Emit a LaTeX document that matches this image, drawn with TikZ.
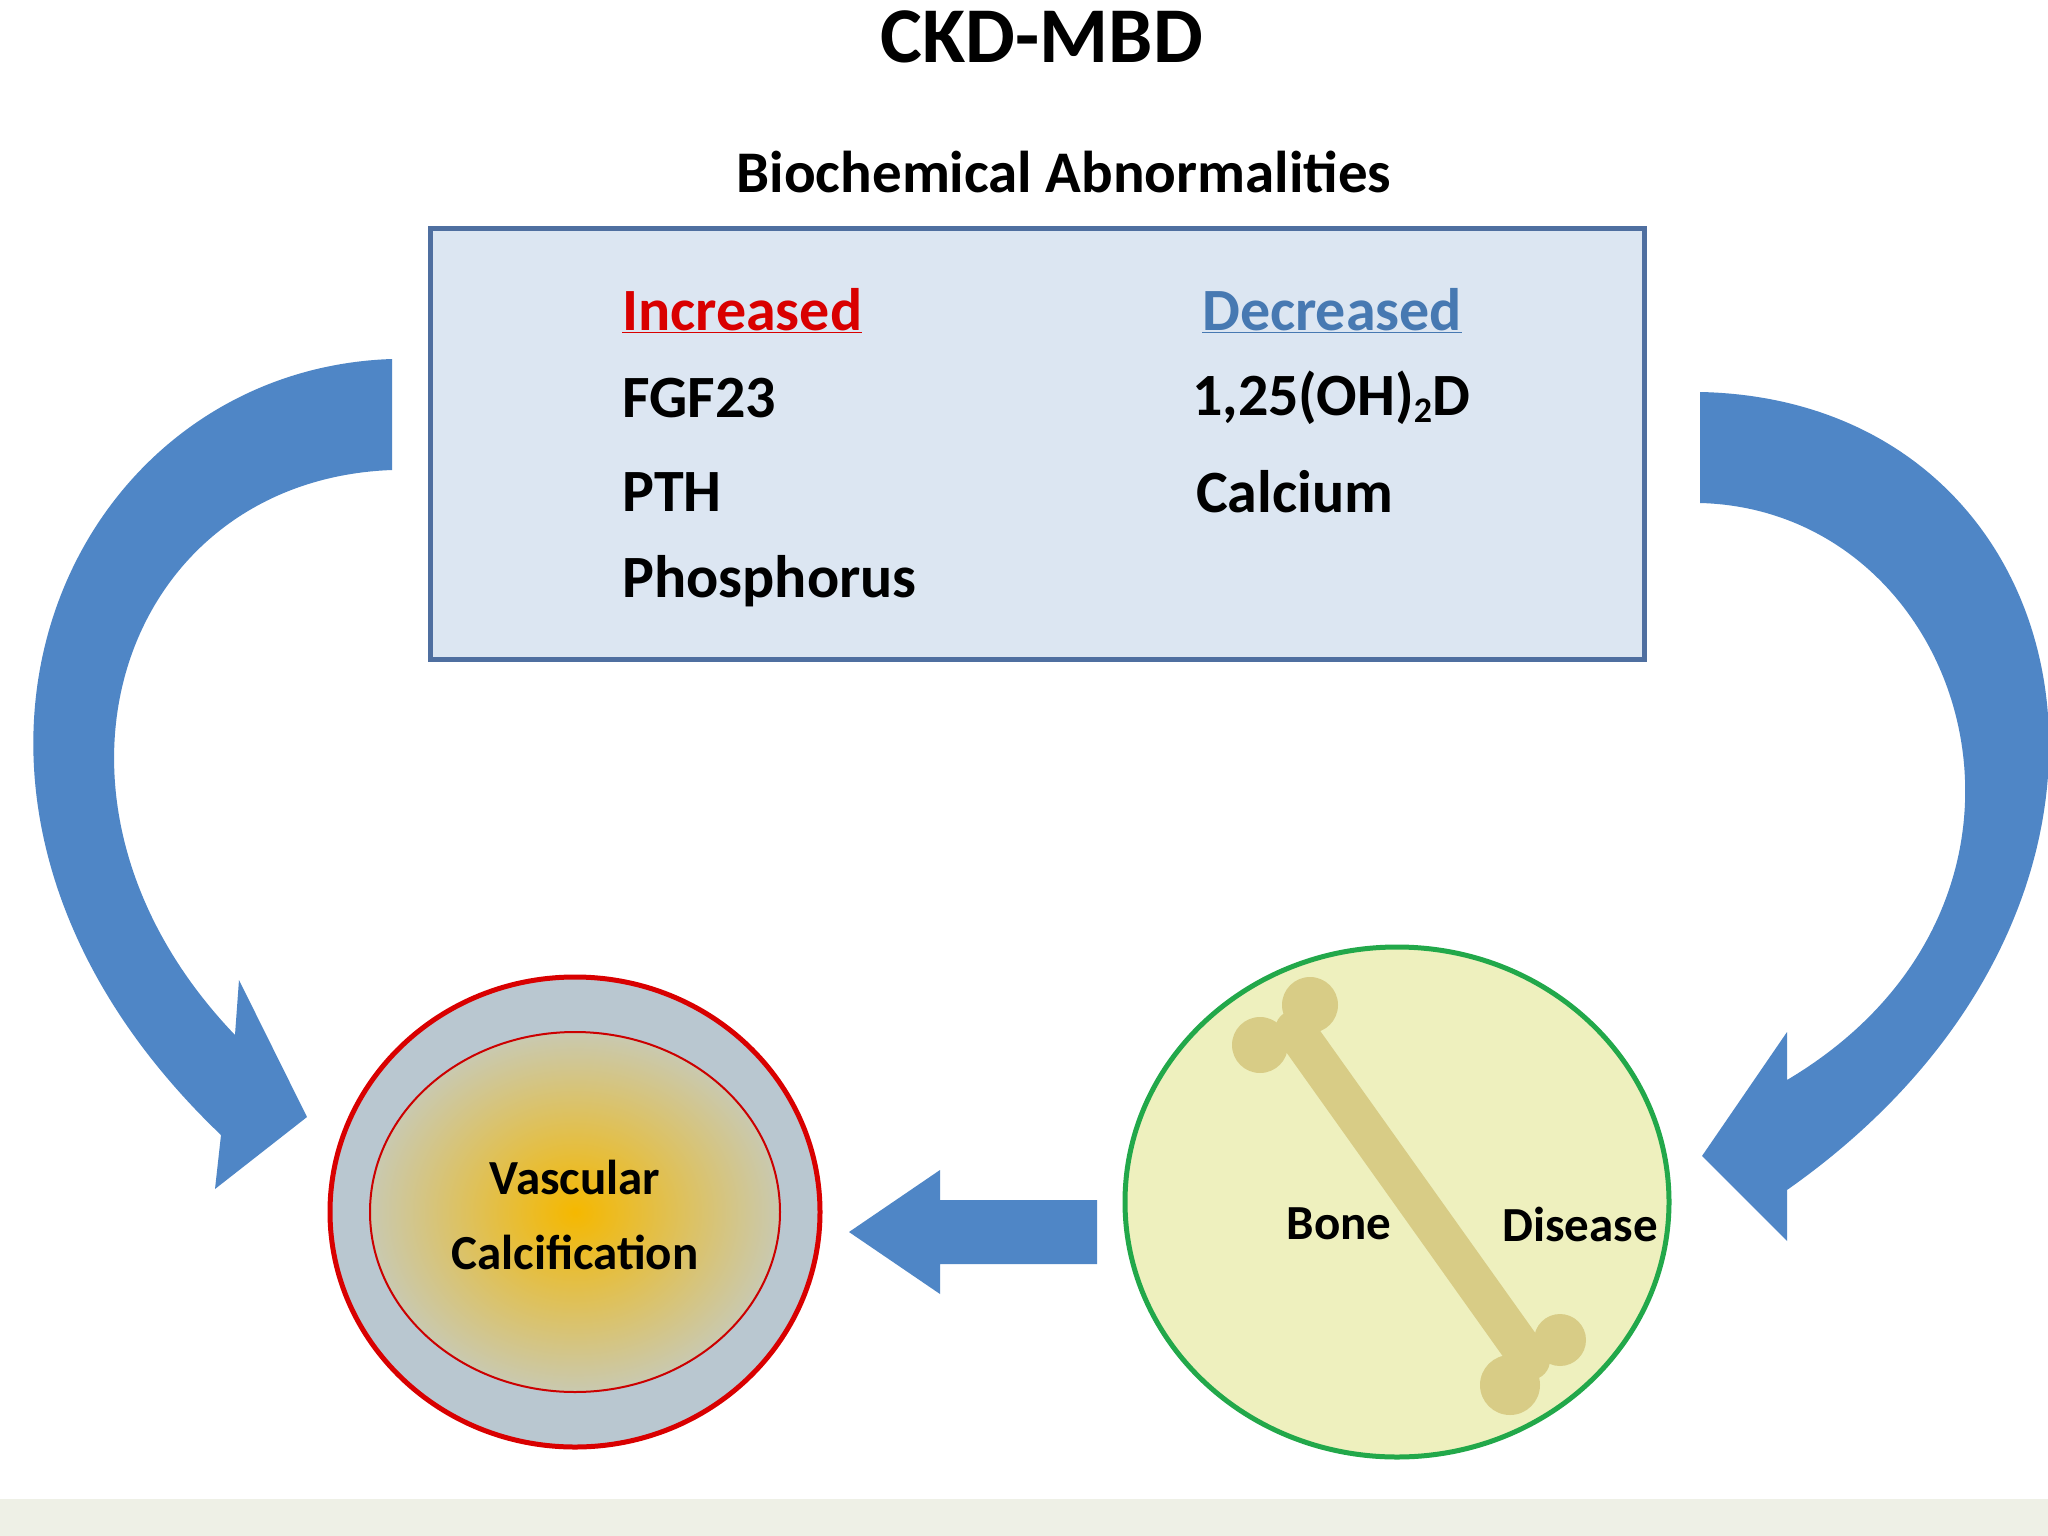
\documentclass[tikz,border=0pt]{standalone}
\usepackage{fontspec}
\setmainfont{Carlito}
\usetikzlibrary{arrows.meta}
\definecolor{arr}{HTML}{4F86C6}
\definecolor{boxf}{HTML}{DCE6F2}
\definecolor{boxd}{HTML}{4F6FA0}
\definecolor{bonec}{HTML}{D8CC86}
\definecolor{band}{HTML}{EEF0E6}
\definecolor{ring}{HTML}{B9C7D0}
\definecolor{core}{HTML}{F5B800}
\definecolor{coreo}{HTML}{C9C9B0}
\definecolor{grn}{HTML}{22A84A}
\definecolor{pale}{HTML}{EEF0BE}
\tikzset{txt/.style={font=\bfseries\fontsize{60}{70}\selectfont, inner sep=0pt},
 sub/.style={font=\bfseries\fontsize{59}{70}\selectfont, inner sep=0pt},
 big/.style={font=\bfseries\fontsize{79}{90}\selectfont, inner sep=0pt},
 lbl/.style={font=\bfseries\fontsize{49}{58}\selectfont, inner sep=0pt},
 arrow/.style={fill=arr, draw=none}}
\begin{document}
\begin{tikzpicture}[x=1pt,y=-1pt]
\useasboundingbox (0,0) rectangle (2048,1536);
\fill[white] (0,0) rectangle (2048,1536);
\fill[band] (0,1499) rectangle (2048,1536);
\node[big] (title) at (1042,37) {CKD-MBD};
\node[sub] (sub) at (1064,172) {Biochemical Abnormalities};
\node[draw=boxd, line width=5, fill=boxf, minimum width=1214, minimum height=431, anchor=north west] (box) at (428,226) {};
\node[txt, text=red!85!black, anchor=west] (inc) at (622,311) {\underline{Increased}};
\node[txt, anchor=west] (fgf) at (622,398) {FGF23};
\node[txt, anchor=west] (pth) at (622,492) {PTH};
\node[txt, anchor=west] (pho) at (622,581) {Phosphorus};
\node[txt, text=arr!90!black, anchor=west] (dec) at (1202,311) {\underline{Decreased}};
\node[txt, anchor=west] (oh) at (1192,398) {1,25(OH)\raisebox{-0.12em}{\fontsize{36}{40}\selectfont 2}D};
\node[txt, anchor=west] (ca) at (1196,492) {Calcium};
\path[arrow] (392,359) .. controls (60,370) and (-130,800) .. (221,1135) -- (215,1189) -- (307,1117) -- (239,980) -- (235,1035) .. controls (10,800) and (120,480) .. (392,470) -- cycle;
\path[arrow] (1700,392) .. controls (2090,400) and (2200,900) .. (1787,1190) -- (1787,1241) -- (1702,1156) -- (1787,1032) -- (1787,1080) .. controls (2090,900) and (1970,510) .. (1700,503) -- cycle;
\draw[red!85!black, line width=5, fill=ring] (575,1212) ellipse [x radius=245, y radius=235];
\shade[inner color=core, outer color=coreo] (575,1212) ellipse [x radius=205, y radius=180];
\draw[red!80!black, line width=2] (575,1212) ellipse [x radius=205, y radius=180];
\node[lbl] (vas) at (575,1177) {Vascular};
\node[lbl] (cal) at (575,1252) {Calcification};
\draw[grn, line width=5, fill=pale] (1397,1202) ellipse [x radius=272, y radius=255];
\draw[bonec, line width=40, line cap=round] (1295,1030) -- (1530,1360);
\fill[bonec] (1260,1045) circle (28) (1310,1005) circle (28) (1510,1385) circle (30) (1560,1340) circle (26);
\node[lbl] (bone) at (1339,1224) {Bone};
\node[lbl] (dis) at (1580,1224) {Disease};
\path[arrow] (1097,1200) -- (940,1200) -- (940,1170) -- (849,1232) -- (940,1294) -- (940,1264) -- (1097,1264) -- cycle;
\end{tikzpicture}
\end{document}
